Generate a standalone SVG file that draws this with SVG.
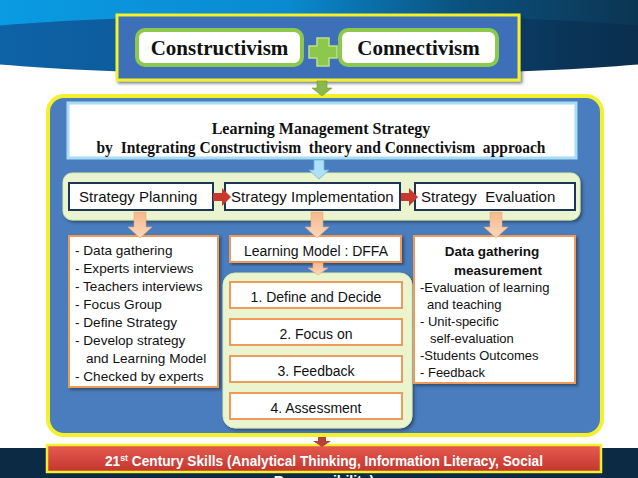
<svg xmlns="http://www.w3.org/2000/svg" width="638" height="478" viewBox="0 0 638 478">
  <defs>
    <linearGradient id="skyTop" x1="0" y1="0" x2="1" y2="0">
      <stop offset="0" stop-color="#0a9be2"/>
      <stop offset="0.45" stop-color="#0a8ad0"/>
      <stop offset="0.72" stop-color="#0b527f"/>
      <stop offset="1" stop-color="#0c3552"/>
    </linearGradient>
    <linearGradient id="skyBand" x1="0" y1="0" x2="1" y2="0">
      <stop offset="0" stop-color="#0e66ad"/>
      <stop offset="0.5" stop-color="#0c5592"/>
      <stop offset="0.8" stop-color="#0a3457"/>
      <stop offset="1" stop-color="#0a2640"/>
    </linearGradient>
    <linearGradient id="banner" x1="0" y1="0" x2="0" y2="1">
      <stop offset="0" stop-color="#e65a50"/>
      <stop offset="1" stop-color="#c2362e"/>
    </linearGradient>
    <linearGradient id="peach" x1="0" y1="0" x2="0" y2="1">
      <stop offset="0" stop-color="#f6b88a"/>
      <stop offset="1" stop-color="#fbd8bd"/>
    </linearGradient>
    <filter id="shadow" x="-5%" y="-5%" width="115%" height="120%">
      <feDropShadow dx="2" dy="2" stdDeviation="1.5" flood-color="#1a2a40" flood-opacity="0.6"/>
    </filter>
    <style>
      .serifB { font-family: "Liberation Serif", "DejaVu Serif", serif; font-weight: bold; fill: #111; }
      .sans { font-family: "Liberation Sans", Arial, sans-serif; fill: #111; }
      .sansB { font-family: "Liberation Sans", Arial, sans-serif; font-weight: bold; fill: #111; }
      .pre { white-space: pre; }
      .ybox { stroke: #f4f02c; }
      .gbox { fill: #ffffff; stroke: #8cc84b; stroke-width: 4; }
      .stbox { fill: #ffffff; stroke: #1d3557; stroke-width: 2; }
      .obox { fill: #ffffff; stroke: #ee9a58; stroke-width: 2; }
      .gpanel { fill: #eaf5d0; stroke: #d6ebb0; stroke-width: 1; }
      .redArrow { fill: #c8382f; }
      .peachArrow { fill: url(#peach); stroke: #e8a77a; stroke-width: 0.6; }
    </style>
  </defs>

  <!-- background -->
  <rect x="0" y="0" width="638" height="478" fill="#ffffff"/>
  <rect x="0" y="0" width="638" height="50" fill="url(#skyTop)"/>
  <ellipse cx="319" cy="45" rx="420" ry="30" fill="url(#skyBand)"/>
  <rect x="0" y="448" width="638" height="30" fill="#0c2a44"/>

  <!-- top box -->
  <g id="top-box">
    <rect x="117" y="15" width="402" height="65" fill="#3d6fb8" class="ybox" stroke-width="3" filter="url(#shadow)"/>
  </g>
  <g id="constructivism">
    <rect x="137" y="30" width="165" height="35" rx="8" class="gbox"/>
    <text x="219.5" y="55" text-anchor="middle" class="serifB" font-size="21">Constructivism</text>
  </g>
  <g id="plus">
    <path d="M317 38 h12 v8 h8 v12 h-8 v8 h-12 v-8 h-8 v-12 h8 z" fill="#8cc84b" stroke="#bfe08a" stroke-width="1.5"/>
  </g>
  <g id="connectivism">
    <rect x="340" y="30" width="157" height="35" rx="8" class="gbox"/>
    <text x="418.5" y="55" text-anchor="middle" class="serifB" font-size="21">Connectivism</text>
  </g>

  <!-- main panel -->
  <g id="main-panel">
    <rect x="48" y="96" width="554" height="339" rx="16" fill="#4a7dbd" class="ybox" stroke-width="4"/>
  </g>
  <g id="title">
    <rect x="68" y="103" width="508" height="55" fill="#ffffff" stroke="#a8dcf2" stroke-width="3"/>
    <text x="321" y="134" text-anchor="middle" class="serifB" font-size="16">Learning Management Strategy</text>
    <text x="321" y="153" text-anchor="middle" class="serifB pre" font-size="16" textLength="449" lengthAdjust="spacingAndGlyphs">by  Integrating Constructivism  theory and Connectivism  approach</text>
  </g>

  <g id="strategy-panel">
    <rect x="63" y="173" width="517" height="47" rx="9" class="gpanel" filter="url(#shadow)"/>
  </g>
  <g id="strategy-planning">
    <rect x="69" y="183" width="144" height="27" class="stbox"/>
    <text x="79" y="202" class="sans" font-size="15">Strategy Planning</text>
  </g>
  <g id="strategy-implementation">
    <rect x="225" y="183" width="175" height="27" class="stbox"/>
    <text x="231" y="202" class="sans" font-size="15">Strategy Implementation</text>
  </g>
  <g id="strategy-evaluation">
    <rect x="415" y="183" width="160" height="27" class="stbox"/>
    <text x="421" y="202" class="sans pre" font-size="15">Strategy  Evaluation</text>
  </g>

  <g id="planning-list">
    <rect x="69" y="236" width="149" height="151" class="obox" filter="url(#shadow)"/>
    <text class="sans" font-size="13.6">
      <tspan x="75" y="255">- Data gathering</tspan>
      <tspan x="75" y="273">- Experts interviews</tspan>
      <tspan x="75" y="291">- Teachers interviews</tspan>
      <tspan x="75" y="309">- Focus Group</tspan>
      <tspan x="75" y="327">- Define Strategy</tspan>
      <tspan x="75" y="345">- Develop strategy</tspan>
      <tspan x="86" y="363">and Learning Model</tspan>
      <tspan x="75" y="381">- Checked by experts</tspan>
    </text>
  </g>

  <g id="learning-model">
    <rect x="230" y="236" width="171" height="26" class="obox" filter="url(#shadow)"/>
    <text x="316" y="256" text-anchor="middle" class="sans" font-size="14">Learning Model : DFFA</text>
  </g>

  <g id="dffa-panel">
    <rect x="223" y="273" width="189" height="155" rx="12" class="gpanel" filter="url(#shadow)"/>
  </g>
  <g id="step-1">
    <rect x="230" y="282" width="172" height="26" class="obox"/>
    <text x="316" y="302" text-anchor="middle" class="sans" font-size="14">1. Define and Decide</text>
  </g>
  <g id="step-2">
    <rect x="230" y="319" width="172" height="26" class="obox"/>
    <text x="316" y="339" text-anchor="middle" class="sans" font-size="14">2. Focus on</text>
  </g>
  <g id="step-3">
    <rect x="230" y="356" width="172" height="26" class="obox"/>
    <text x="316" y="376" text-anchor="middle" class="sans" font-size="14">3. Feedback</text>
  </g>
  <g id="step-4">
    <rect x="230" y="393" width="172" height="26" class="obox"/>
    <text x="316" y="413" text-anchor="middle" class="sans" font-size="14">4. Assessment</text>
  </g>

  <g id="evaluation-list">
    <rect x="414" y="236" width="161" height="147" class="obox" filter="url(#shadow)"/>
    <text x="492" y="256" text-anchor="middle" class="sansB" font-size="13.5">Data gathering</text>
    <text x="498" y="275" text-anchor="middle" class="sansB" font-size="13.5">measurement</text>
    <text class="sans" font-size="13">
      <tspan x="420" y="292">-Evaluation of learning</tspan>
      <tspan x="427" y="309">and teaching</tspan>
      <tspan x="420" y="326">- Unit-specific</tspan>
      <tspan x="430" y="343">self-evaluation</tspan>
      <tspan x="420" y="360">-Students Outcomes</tspan>
      <tspan x="420" y="377">- Feedback</tspan>
    </text>
  </g>

  <g id="skills-banner">
    <rect x="47" y="445" width="554" height="27" fill="url(#banner)" class="ybox" stroke-width="2.5"/>
    <text x="324" y="466" text-anchor="middle" class="sansB" font-size="14" style="fill:#ffffff" textLength="438" lengthAdjust="spacingAndGlyphs">21<tspan font-size="9" dy="-5">st</tspan><tspan dy="5"> Century Skills (Analytical Thinking, Information Literacy, Social</tspan></text>
    <text x="324" y="486" text-anchor="middle" class="sansB" font-size="14" style="fill:#ffffff">Responsibility)</text>
  </g>

  <!-- connectors -->
  <g id="connectors">
    <path d="M317 81 h10 v7 h5 l-10 8 l-10 -8 h5 z" fill="#8ab84a" stroke="#6f9a38" stroke-width="0.6"/>
    <path d="M314 160 h10 v10 h5 l-10 9 l-10 -9 h5 z" fill="#aee0f7" stroke="#66b8e0" stroke-width="0.8"/>
    <path d="M213 193 h9 v-5 l9 9 l-9 9 v-5 h-9 z" class="redArrow"/>
    <path d="M401 193 h8 v-5 l9 9 l-9 9 v-5 h-8 z" class="redArrow"/>
    <path d="M134 212 h12 v15 h6 l-12 11 l-12 -11 h6 z" class="peachArrow"/>
    <path d="M311 212 h12 v15 h6 l-12 11 l-12 -11 h6 z" class="peachArrow"/>
    <path d="M490 212 h12 v15 h6 l-12 11 l-12 -11 h6 z" class="peachArrow"/>
    <path d="M313 263 h10 v5 h5 l-10 7 l-10 -7 h5 z" class="peachArrow"/>
    <path d="M318 437 h8 v4 h5 l-9 6 l-9 -6 h5 z" fill="#b8403a"/>
  </g>
</svg>
